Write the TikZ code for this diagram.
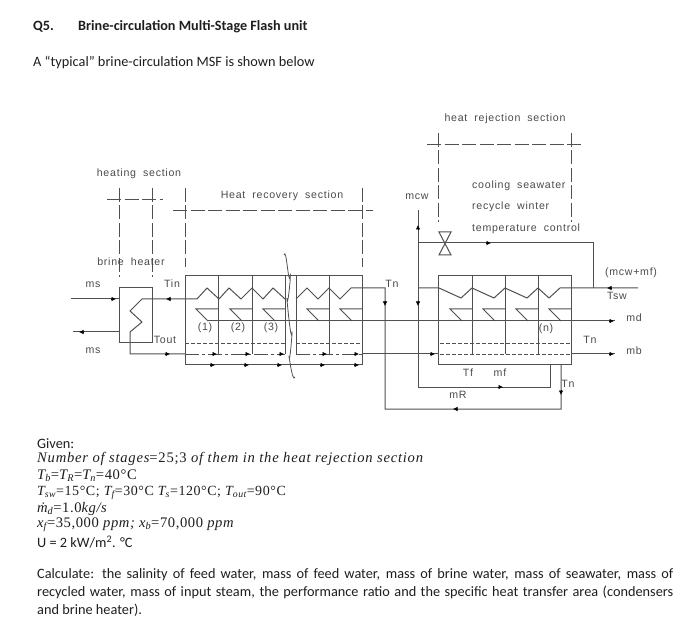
\documentclass[tikz,border=0pt]{standalone}
\usepackage{xcolor}
\usepackage{fontspec}
\setmainfont{Carlito}
\newfontfamily\cadfont[LetterSpace=7,WordSpace=1.9]{Liberation Sans}
\newfontfamily\givenfont[LetterSpace=4]{Liberation Serif}
\newfontfamily\givenwide[LetterSpace=5.3]{Liberation Serif}
\usetikzlibrary{arrows.meta, positioning, calc}
\definecolor{cadline}{HTML}{505050}
\definecolor{cadtext}{HTML}{4A4A4A}
\definecolor{pagetext}{HTML}{1E1E1E}
\tikzset{
  wire/.style={draw=cadline, line width=1pt},
  sectionline/.style={draw=cadline, line width=0.8pt, dash pattern=on 14pt off 3.5pt},
  levelline/.style={draw=cadline, line width=0.9pt, dash pattern=on 3.5pt off 2.5pt},
  flowline/.style={draw=cadline, line width=0.9pt, dash pattern=on 14pt off 3pt on 3pt off 3pt},
  flowtip/.style={draw=black, line width=0.6pt, -{Latex[length=4.5pt,width=4.5pt]}},
  stagebox/.style={wire, anchor=north west, inner sep=0pt, outer sep=0pt},
  cadlabel/.style={font=\cadfont\fontsize{10.6}{12}\selectfont, text=cadtext, inner sep=0pt},
  pagelabel/.style={font=\fontsize{14.3}{17}\selectfont, text=pagetext, inner sep=0pt, anchor=west},
  givenlabel/.style={font=\givenfont\itshape\fontsize{14.6}{16}\selectfont, text=pagetext, inner sep=0pt, anchor=west},
}
\newcommand{\tipright}[2]{\draw[flowtip] (#1-3,#2) -- (#1+2,#2);}
\newcommand{\tipleft}[2]{\draw[flowtip] (#1+3,#2) -- (#1-2,#2);}
\newcommand{\tipdown}[2]{\draw[flowtip] (#1,#2-3) -- (#1,#2+2);}
\newcommand{\tipup}[2]{\draw[flowtip] (#1,#2+3) -- (#1,#2-2);}
\begin{document}
\begin{tikzpicture}[x=1pt, y=-1pt]
  \useasboundingbox (0,0) rectangle (699,644);
  % page text above the drawing
  \node[pagelabel, font=\bfseries\fontsize{14.2}{17}\selectfont] (qnum) at (33,27) {Q5.};
  \node[pagelabel, font=\bfseries\fontsize{14.2}{17}\selectfont] (title) at (78,27) {Brine-circulation Multi-Stage Flash unit};
  \node[pagelabel] (intro) at (33,62) {A “typical” brine-circulation MSF is shown below};

  % vessels
  \node[stagebox, minimum width=33pt, minimum height=55pt] (heater) at (119,288) {};
  \node[stagebox, minimum width=177pt, minimum height=89pt] (recovery) at (185,276) {};
  \node[stagebox, minimum width=133pt, minimum height=89pt] (rejection) at (438,276) {};

  % section markers
  \draw[sectionline] (107,199) -- (163,199);
  \draw[sectionline] (119,188) -- (119,277);
  \draw[sectionline] (152,188) -- (152,277);
  \draw[sectionline] (173,210) -- (373,210);
  \draw[sectionline] (185,188) -- (185,267);
  \draw[sectionline] (362,188) -- (362,267);
  \draw[sectionline] (427,144) -- (583,144);
  \draw[sectionline] (438,133) -- (438,222);
  \draw[sectionline] (571,133) -- (571,222);

  % stage walls
  \foreach \wx in {218,252,285,296,329,472,505,538}
    \draw[wire] (\wx,276) -- (\wx,354);

  % condenser tubes
  \draw[wire] (71,299) -- (119,299);
  \draw[wire] (73,332) -- (119,332);
  \draw[wire] (197,299) -- (142,299) -- (130,311) -- (142,322) -- (130,332) -- (130,354) -- (185,354);
  \draw[wire] (197,299) -- (207,288) -- (219,299) -- (229,288) -- (241,299) -- (252,288) -- (263,299) -- (273,288) -- (285,299);
  \draw[wire] (296,299) -- (307,288) -- (318,299) -- (329,288) -- (340,299) -- (351,288) -- (385,288) -- (385,409) -- (561,409) -- (561,365);
  \draw[wire] (418,288) -- (439,288) -- (461,298) -- (472,288) -- (494,298) -- (505,288) -- (527,298) -- (538,288) -- (549,298) -- (560,288) -- (638,288);

  % distillate trays
  \foreach \wx in {218,252,285,329,362,472,505,538,571}
    \draw[wire] (\wx,309) -- (\wx-22,309) -- (\wx-10,321);
  \draw[wire] (208,321) -- (615,321);

  % brine levels
  \draw[levelline] (185,343) -- (285,343);
  \draw[levelline] (296,343) -- (362,343);
  \draw[flowline] (185,354) -- (285,354);
  \draw[flowline] (296,354) -- (362,354);
  \draw[levelline] (440,343) -- (571,343);
  \draw[levelline] (440,354) -- (571,354);
  \draw[wire] (362,354) -- (438,354);
  \draw[wire] (571,354) -- (615,354);

  % stage break
  \draw[wire, line width=0.8pt] (284,255) to[out=75, in=-100] (290,277) to[out=80, in=-85] (287,300)
    to[out=95, in=-95] (292,333) to[out=85, in=-85] (289,357) to[out=95, in=-110] (295,377);

  % cooling water and recycle
  \draw[wire] (418,210) -- (418,387) -- (550,387) -- (550,365);
  \draw[wire] (418,243) -- (593,243) -- (593,288);
  \draw[wire, fill=white] (439,232) -- (451,232) -- (439,255) -- (451,255) -- cycle;

  % flow marks
  \tipright{114}{299} \tipleft{81}{332}
  \tipleft{168}{299} \tipright{168}{354}
  \foreach \fx in {215,248,282,325,357} {\tipright{\fx}{354}}
  \foreach \fx in {213,247,280,323,357} {\tipright{\fx}{365}}
  \tipdown{385}{304} \tipleft{455}{409} \tipdown{561}{393}
  \tipup{418}{227} \tipdown{418}{304} \tipright{489}{243}
  \tipright{501}{387} \tipright{433}{354}
  \tipleft{609}{288} \tipright{612}{321} \tipright{612}{354}

  % drawing labels
  \node[cadlabel] (heatinglbl) at (139,174) {heating section};
  \node[cadlabel] (recoverylbl) at (282,196) {Heat recovery section};
  \node[cadlabel] (brinelbl) at (131,262) {brine heater};
  \node[cadlabel] (rejectlbl) at (505,119) {heat rejection section};
  \node[cadlabel] (mcwlbl) at (417,197) {mcw};
  \node[cadlabel, anchor=west] (coolinglbl) at (472,186) {cooling seawater};
  \node[cadlabel, anchor=west] (recyclelbl) at (472,207) {recycle winter};
  \node[cadlabel, anchor=west] (templbl) at (472,229) {temperature control};
  \node[cadlabel] (msin) at (93,285) {ms};
  \node[cadlabel] (msout) at (93,351) {ms};
  \node[cadlabel] (tinlbl) at (172,284) {Tin};
  \node[cadlabel] (toutlbl) at (165,340) {Tout};
  \foreach \n/\lx in {1/205,2/238,3/271}
    \node[cadlabel] (stage\n) at (\lx,328) {(\n)};
  \node[cadlabel] (stagen) at (546,329) {(n)};
  \node[cadlabel] (tnmid) at (392,284) {Tn};
  \node[cadlabel] (tnright) at (590,340) {Tn};
  \node[cadlabel] (tnlow) at (568,384) {Tn};
  \node[cadlabel] (tflbl) at (468,373) {Tf};
  \node[cadlabel] (mflbl) at (500,373) {mf};
  \node[cadlabel] (mrlbl) at (458,395) {mR};
  \node[cadlabel] (outlbl) at (631,273) {(mcw+mf)};
  \node[cadlabel] (tswlbl) at (617,296) {Tsw};
  \node[cadlabel] (mdlbl) at (634,318) {md};
  \node[cadlabel] (mblbl) at (634,351) {mb};

  % given data
  \node[pagelabel] (given) at (37,444) {Given:};
  \node[givenlabel, font=\givenwide\itshape\fontsize{14.6}{16}\selectfont] (g1) at (37,459) {Number of stages{\upshape=25;3} of them in the heat rejection section};
  \node[givenlabel] (g2) at (37,476) {T\textsubscript{b}{\upshape=}T\textsubscript{R}{\upshape=}T\textsubscript{n}{\upshape=40°C}};
  \node[givenlabel, font=\givenfont\itshape\fontsize{14}{16}\selectfont] (g3) at (37,493) {T\textsubscript{sw}{\upshape=15°C;} T\textsubscript{f}{\upshape=30°C} T\textsubscript{s}{\upshape=120°C;} T\textsubscript{out}{\upshape=90°C}};
  \node[givenlabel] (g4) at (37,509) {ṁ\textsubscript{d}{\upshape=1.0}kg/s};
  \node[givenlabel] (g5) at (37,525) {x\textsubscript{f}{\upshape=35,000} ppm; x\textsubscript{b}{\upshape=70,000} ppm};
  \node[pagelabel] (g6) at (37,542) {U = 2 kW/m\textsuperscript{2}. °C};

  % question
  \node[pagelabel, text width=636pt, align=justify, anchor=north west, font=\fontsize{14.3}{18}\selectfont] (calc) at (37,568)
    {Calculate: the salinity of feed water, mass of feed water, mass of brine water, mass of seawater, mass of\linebreak recycled water, mass of input steam, the performance ratio and the specific heat transfer area (condensers\linebreak and brine heater).};
\end{tikzpicture}
\end{document}
